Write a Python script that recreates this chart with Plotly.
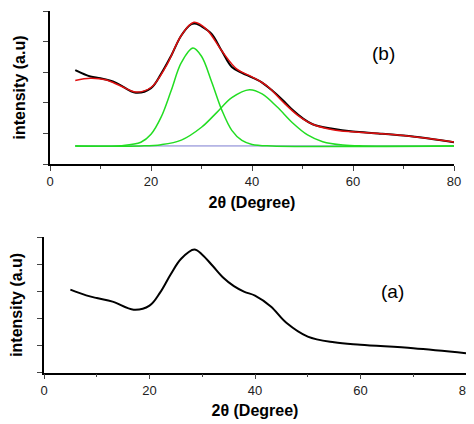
import plotly.graph_objects as go

# (b) measured pattern and fit
xb = [5, 8, 10, 13, 17, 20, 22, 24, 26, 28, 29, 30, 32, 34, 36, 38, 40, 42, 44, 46, 48, 50, 52, 56, 60, 65, 70, 75, 80]
yb = [3.07, 2.86, 2.8, 2.66, 2.33, 2.48, 2.95, 3.54, 4.2, 4.57, 4.58, 4.5, 4.25, 3.7, 3.17, 2.98, 2.83, 2.66, 2.4, 2.1, 1.77, 1.5, 1.3, 1.15, 1.06, 1.0, 0.93, 0.83, 0.71]
x_fit = [5, 8, 11, 14, 17, 20, 23, 26, 28.5, 31, 34, 37, 40, 43, 46, 49, 52, 56, 60, 65, 70, 75, 80]
y_fit = [2.73, 2.8, 2.75, 2.55, 2.35, 2.5, 3.2, 4.2, 4.63, 4.4, 3.7, 3.1, 2.85, 2.55, 2.05, 1.6, 1.3, 1.12, 1.05, 1.0, 0.93, 0.83, 0.72]
x_p1 = [5, 14, 18, 20, 22, 24, 26, 28.3, 30, 32, 34, 36, 38, 40, 44, 80]
y_p1 = [0.59, 0.6, 0.71, 0.97, 1.53, 2.4, 3.31, 3.79, 3.52, 2.69, 1.77, 1.1, 0.77, 0.64, 0.59, 0.59]
x_p2 = [5, 18, 22, 26, 30, 33, 36, 39.5, 42, 45, 48, 51, 54, 58, 62, 80]
y_p2 = [0.59, 0.59, 0.63, 0.78, 1.2, 1.68, 2.17, 2.43, 2.29, 1.86, 1.35, 0.95, 0.73, 0.62, 0.59, 0.59]
base = 0.59

# (a) raw pattern
xa = [5, 8, 10, 13, 17, 20, 22, 24, 26, 28.5, 30, 32, 34, 36, 38, 40, 43, 46, 50, 55, 60, 70, 80]
ya = [3.06, 2.85, 2.75, 2.62, 2.32, 2.47, 2.95, 3.62, 4.2, 4.54, 4.35, 3.93, 3.5, 3.19, 2.98, 2.84, 2.44, 1.83, 1.33, 1.12, 1.03, 0.9, 0.72]

W, H = 474, 424
off = 8  # page body margin
fig = go.Figure()
fig.add_trace(go.Scatter(x=[5, 80], y=[base, base], mode="lines", line=dict(color="#7b7bd0", width=1), xaxis="x", yaxis="y"))
fig.add_trace(go.Scatter(x=x_p1, y=y_p1, mode="lines", line=dict(color="#22dd22", width=1.5, shape="spline"), xaxis="x", yaxis="y"))
fig.add_trace(go.Scatter(x=x_p2, y=y_p2, mode="lines", line=dict(color="#22dd22", width=1.5, shape="spline"), xaxis="x", yaxis="y"))
fig.add_trace(go.Scatter(x=xb, y=yb, mode="lines", line=dict(color="black", width=2, shape="spline"), xaxis="x", yaxis="y"))
fig.add_trace(go.Scatter(x=x_fit, y=y_fit, mode="lines", line=dict(color="#e01010", width=1.5, shape="spline"), xaxis="x", yaxis="y"))
fig.add_trace(go.Scatter(x=xa, y=ya, mode="lines", line=dict(color="black", width=2, shape="spline"), xaxis="x2", yaxis="y2"))

xax = dict(range=[0, 80], tickvals=[0, 20, 40, 60, 80], ticks="outside", ticklen=5,
           minor=dict(tickvals=[10, 30, 50, 70], ticks="outside", ticklen=3),
           showline=True, linecolor="black", linewidth=1.5, showgrid=False, zeroline=False,
           tickfont=dict(family="Arial", size=13, color="#222"),
           title=dict(text="<b>2θ (Degree)</b>", font=dict(family="Arial", size=16, color="black"), standoff=8),
           automargin=False)
yax = dict(range=[0, 5], tickvals=[0, 1, 2, 3, 4, 5], ticks="outside", ticklen=5, showticklabels=False,
           showline=True, linecolor="black", linewidth=1.5, showgrid=False, zeroline=False,
           title=dict(text="<b>intensity (a.u)</b>", font=dict(family="Arial", size=16, color="black"), standoff=14),
           automargin=False)

fig.update_layout(
    width=W, height=H, margin=dict(l=0, r=0, t=0, b=0),
    paper_bgcolor="white", plot_bgcolor="white", showlegend=False,
    xaxis=dict(xax, domain=[(50 - off) / W, (454 - off) / W], anchor="y"),
    yaxis=dict(yax, domain=[1 - (164 - off) / H, 1 - (3 - off + 8) / H], anchor="x"),
    xaxis2=dict(xax, domain=[(44 - off) / W, (466 - off) / W], anchor="y2"),
    yaxis2=dict(yax, domain=[1 - (372.7 - off) / H, 1 - (237 - off) / H], anchor="x2"),
)
fig.add_annotation(x=66, y=3.6, xref="x", yref="y", text="(b)", showarrow=False, font=dict(family="Arial", size=19, color="black"))
fig.add_annotation(x=66, y=3.0, xref="x2", yref="y2", text="(a)", showarrow=False, font=dict(family="Arial", size=19, color="black"))

fig.write_html("out.html")
